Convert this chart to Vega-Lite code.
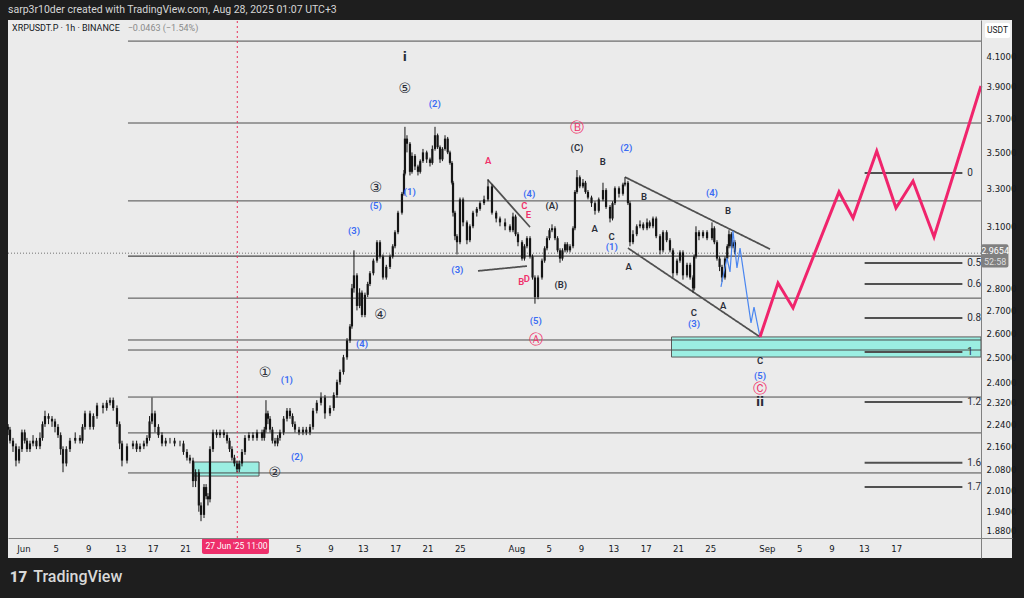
{
"$schema":"https://vega.github.io/schema/vega-lite/v6.json",
"width":1004,"height":538,
"autosize":{"type":"none"},
"padding":{"left":8,"top":20,"right":12,"bottom":40},
"background":"#1e1e1e",
"title":{"text":"sarp3r10der created with TradingView.com, Aug 28, 2025 01:07 UTC+3","anchor":"start","frame":"group","color":"#d6d6d6","fontSize":10.5,"fontWeight":"normal","font":"Roboto","offset":4},
"config":{"view":{"fill":"#ebebeb","stroke":null},"font":"Roboto"},
"resolve":{"scale":{"color":"independent","size":"independent","strokeWidth":"independent","strokeDash":"independent"}},
"datasets":{
"boxes":[{"d0":21.1,"d1":29.15,"p0":2.057,"p1":2.105},{"d0":80.2,"d1":118.5,"p0":2.501,"p1":2.585}],
"lines":[
{"d0":12.93,"p0":4.202,"d1":118.5,"p1":4.202,"k":"h"},
{"d0":12.93,"p0":3.673,"d1":118.5,"p1":3.673,"k":"h"},
{"d0":12.93,"p0":3.232,"d1":118.5,"p1":3.232,"k":"h"},
{"d0":12.93,"p0":2.952,"d1":118.5,"p1":2.952,"k":"thick"},
{"d0":12.93,"p0":2.755,"d1":118.5,"p1":2.755,"k":"h"},
{"d0":12.93,"p0":2.572,"d1":118.5,"p1":2.572,"k":"h"},
{"d0":12.93,"p0":2.530,"d1":118.5,"p1":2.530,"k":"h"},
{"d0":12.93,"p0":2.342,"d1":118.5,"p1":2.342,"k":"h"},
{"d0":12.93,"p0":2.208,"d1":118.5,"p1":2.208,"k":"h"},
{"d0":12.93,"p0":2.0675,"d1":118.5,"p1":2.0675,"k":"h"},
{"d0":-1.918,"p0":2.9654,"d1":118.5,"p1":2.9654,"k":"dot"},
{"d0":57.49,"p0":3.345,"d1":62.69,"p1":3.096,"k":"trend"},
{"d0":56.25,"p0":2.881,"d1":62.31,"p1":2.904,"k":"trend"},
{"d0":74.44,"p0":3.361,"d1":92.39,"p1":2.986,"k":"trend"},
{"d0":74.81,"p0":2.991,"d1":91.15,"p1":2.585,"k":"trend"},
{"d0":104.1,"p0":3.384,"d1":116.2,"p1":3.384,"k":"fib"},
{"d0":104.1,"p0":2.919,"d1":116.2,"p1":2.919,"k":"fib"},
{"d0":104.1,"p0":2.820,"d1":116.2,"p1":2.820,"k":"fib"},
{"d0":104.1,"p0":2.667,"d1":116.2,"p1":2.667,"k":"fib"},
{"d0":104.1,"p0":2.522,"d1":116.2,"p1":2.522,"k":"fib"},
{"d0":104.1,"p0":2.323,"d1":116.2,"p1":2.323,"k":"fib"},
{"d0":104.1,"p0":2.102,"d1":116.2,"p1":2.102,"k":"fib"},
{"d0":104.1,"p0":2.0205,"d1":116.2,"p1":2.0205,"k":"fib"}
],
"fibtext":[
{"d":116.8,"p":3.384,"t":"0"},{"d":116.8,"p":2.919,"t":"0.5"},{"d":116.8,"p":2.820,"t":"0.618"},{"d":116.8,"p":2.667,"t":"0.809"},
{"d":116.8,"p":2.522,"t":"1"},{"d":116.8,"p":2.323,"t":"1.272"},{"d":116.8,"p":2.102,"t":"1.618"},{"d":116.8,"p":2.0205,"t":"1.758"}
],
"vline":[{"d":26.46,"p0":1.858,"p1":4.35}],
"c":[
{"d":-1.9,"o":2.23,"h":2.24,"l":2.20,"c":2.22},{"d":-1.67,"o":2.22,"h":2.23,"l":2.17,"c":2.18},{"d":-1.3,"o":2.18,"h":2.19,"l":2.14,"c":2.16},{"d":-0.93,"o":2.16,"h":2.17,"l":2.09,"c":2.11},
{"d":-0.55,"o":2.11,"h":2.16,"l":2.10,"c":2.15},{"d":-0.19,"o":2.15,"h":2.22,"l":2.14,"c":2.21},{"d":0.15,"o":2.21,"h":2.22,"l":2.17,"c":2.18},{"d":0.43,"o":2.18,"h":2.19,"l":2.14,"c":2.15},
{"d":0.8,"o":2.15,"h":2.18,"l":2.14,"c":2.17},{"d":1.18,"o":2.17,"h":2.20,"l":2.16,"c":2.18},{"d":1.6,"o":2.18,"h":2.19,"l":2.15,"c":2.16},{"d":2.04,"o":2.16,"h":2.21,"l":2.15,"c":2.19},
{"d":2.35,"o":2.19,"h":2.25,"l":2.18,"c":2.24},{"d":2.66,"o":2.24,"h":2.29,"l":2.23,"c":2.27},{"d":3.1,"o":2.27,"h":2.28,"l":2.24,"c":2.26},{"d":3.53,"o":2.26,"h":2.27,"l":2.23,"c":2.25},
{"d":3.9,"o":2.25,"h":2.26,"l":2.21,"c":2.23},{"d":4.27,"o":2.23,"h":2.24,"l":2.19,"c":2.20},{"d":4.6,"o":2.20,"h":2.21,"l":2.13,"c":2.15},{"d":4.89,"o":2.15,"h":2.16,"l":2.07,"c":2.10},
{"d":5.3,"o":2.10,"h":2.16,"l":2.09,"c":2.15},{"d":5.75,"o":2.15,"h":2.19,"l":2.14,"c":2.18},{"d":6.4,"o":2.18,"h":2.21,"l":2.17,"c":2.19},{"d":6.99,"o":2.19,"h":2.20,"l":2.17,"c":2.18},
{"d":7.3,"o":2.18,"h":2.24,"l":2.17,"c":2.23},{"d":7.61,"o":2.23,"h":2.29,"l":2.22,"c":2.28},{"d":8.23,"o":2.28,"h":2.29,"l":2.22,"c":2.23},{"d":8.65,"o":2.23,"h":2.28,"l":2.22,"c":2.27},
{"d":9.1,"o":2.27,"h":2.32,"l":2.26,"c":2.31},{"d":9.84,"o":2.31,"h":2.32,"l":2.28,"c":2.30},{"d":10.3,"o":2.30,"h":2.33,"l":2.29,"c":2.32},{"d":10.71,"o":2.32,"h":2.34,"l":2.31,"c":2.33},
{"d":11.1,"o":2.33,"h":2.34,"l":2.29,"c":2.30},{"d":11.57,"o":2.30,"h":2.31,"l":2.23,"c":2.24},{"d":11.9,"o":2.24,"h":2.25,"l":2.15,"c":2.17},{"d":12.19,"o":2.17,"h":2.18,"l":2.09,"c":2.11},
{"d":12.81,"o":2.11,"h":2.17,"l":2.10,"c":2.16},{"d":13.55,"o":2.16,"h":2.18,"l":2.15,"c":2.17},{"d":14.0,"o":2.17,"h":2.18,"l":2.14,"c":2.15},{"d":14.42,"o":2.15,"h":2.17,"l":2.14,"c":2.16},
{"d":14.9,"o":2.16,"h":2.18,"l":2.15,"c":2.17},{"d":15.28,"o":2.17,"h":2.20,"l":2.16,"c":2.19},{"d":15.6,"o":2.19,"h":2.27,"l":2.18,"c":2.25},{"d":15.9,"o":2.25,"h":2.34,"l":2.24,"c":2.28},
{"d":16.27,"o":2.28,"h":2.29,"l":2.21,"c":2.23},{"d":16.7,"o":2.23,"h":2.24,"l":2.19,"c":2.20},{"d":17.14,"o":2.20,"h":2.21,"l":2.16,"c":2.17},{"d":17.6,"o":2.17,"h":2.19,"l":2.16,"c":2.18},
{"d":18.13,"o":2.18,"h":2.19,"l":2.17,"c":2.18},{"d":18.7,"o":2.18,"h":2.19,"l":2.16,"c":2.17},{"d":19.37,"o":2.17,"h":2.18,"l":2.16,"c":2.17},{"d":19.8,"o":2.17,"h":2.18,"l":2.13,"c":2.14},
{"d":20.23,"o":2.14,"h":2.15,"l":2.11,"c":2.12},{"d":20.6,"o":2.12,"h":2.13,"l":2.10,"c":2.11},{"d":20.98,"o":2.11,"h":2.12,"l":2.02,"c":2.04},{"d":21.3,"o":2.04,"h":2.08,"l":2.02,"c":2.07},
{"d":21.7,"o":2.07,"h":2.08,"l":1.94,"c":1.96},{"d":21.97,"o":1.96,"h":1.97,"l":1.91,"c":1.93},{"d":22.34,"o":1.93,"h":2.03,"l":1.92,"c":2.02},{"d":22.6,"o":2.02,"h":2.03,"l":1.98,"c":1.99},
{"d":22.83,"o":1.99,"h":2.00,"l":1.96,"c":1.98},{"d":23.08,"o":1.98,"h":2.16,"l":1.97,"c":2.15},{"d":23.45,"o":2.15,"h":2.22,"l":2.14,"c":2.21},{"d":23.9,"o":2.21,"h":2.22,"l":2.19,"c":2.20},
{"d":24.32,"o":2.20,"h":2.22,"l":2.19,"c":2.21},{"d":24.8,"o":2.21,"h":2.22,"l":2.19,"c":2.20},{"d":25.19,"o":2.20,"h":2.21,"l":2.17,"c":2.18},{"d":25.5,"o":2.18,"h":2.19,"l":2.14,"c":2.15},
{"d":25.8,"o":2.15,"h":2.16,"l":2.11,"c":2.12},{"d":26.1,"o":2.12,"h":2.13,"l":2.09,"c":2.10},{"d":26.42,"o":2.10,"h":2.11,"l":2.07,"c":2.08},{"d":26.7,"o":2.08,"h":2.11,"l":2.07,"c":2.10},
{"d":27.04,"o":2.10,"h":2.15,"l":2.09,"c":2.14},{"d":27.41,"o":2.14,"h":2.20,"l":2.13,"c":2.19},{"d":27.9,"o":2.19,"h":2.21,"l":2.18,"c":2.20},{"d":28.4,"o":2.20,"h":2.21,"l":2.18,"c":2.19},
{"d":28.9,"o":2.19,"h":2.22,"l":2.18,"c":2.21},{"d":29.52,"o":2.21,"h":2.22,"l":2.18,"c":2.19},{"d":29.8,"o":2.19,"h":2.23,"l":2.18,"c":2.22},{"d":30.01,"o":2.22,"h":2.33,"l":2.21,"c":2.28},
{"d":30.25,"o":2.28,"h":2.29,"l":2.24,"c":2.26},{"d":30.51,"o":2.26,"h":2.27,"l":2.21,"c":2.22},{"d":30.8,"o":2.22,"h":2.23,"l":2.17,"c":2.18},{"d":31.13,"o":2.18,"h":2.19,"l":2.16,"c":2.17},
{"d":31.45,"o":2.17,"h":2.20,"l":2.16,"c":2.19},{"d":31.74,"o":2.19,"h":2.22,"l":2.18,"c":2.21},{"d":32.2,"o":2.21,"h":2.27,"l":2.20,"c":2.26},{"d":32.61,"o":2.26,"h":2.30,"l":2.25,"c":2.29},
{"d":32.98,"o":2.29,"h":2.30,"l":2.26,"c":2.27},{"d":33.3,"o":2.27,"h":2.28,"l":2.23,"c":2.24},{"d":33.6,"o":2.24,"h":2.25,"l":2.21,"c":2.22},{"d":34.1,"o":2.22,"h":2.23,"l":2.20,"c":2.21},
{"d":34.59,"o":2.21,"h":2.23,"l":2.20,"c":2.22},{"d":35.0,"o":2.22,"h":2.23,"l":2.20,"c":2.21},{"d":35.46,"o":2.21,"h":2.24,"l":2.20,"c":2.23},{"d":35.83,"o":2.23,"h":2.30,"l":2.22,"c":2.29},
{"d":36.3,"o":2.29,"h":2.33,"l":2.28,"c":2.32},{"d":36.82,"o":2.32,"h":2.36,"l":2.31,"c":2.34},{"d":37.31,"o":2.34,"h":2.35,"l":2.26,"c":2.28},{"d":37.93,"o":2.28,"h":2.31,"l":2.27,"c":2.30},
{"d":38.4,"o":2.30,"h":2.36,"l":2.29,"c":2.35},{"d":38.8,"o":2.35,"h":2.41,"l":2.34,"c":2.40},{"d":39.17,"o":2.40,"h":2.45,"l":2.39,"c":2.44},{"d":39.6,"o":2.44,"h":2.51,"l":2.43,"c":2.50},
{"d":40.04,"o":2.50,"h":2.58,"l":2.49,"c":2.57},{"d":40.41,"o":2.57,"h":2.64,"l":2.56,"c":2.63},{"d":40.65,"o":2.63,"h":2.82,"l":2.62,"c":2.80},{"d":40.9,"o":2.80,"h":2.98,"l":2.78,"c":2.86},
{"d":41.27,"o":2.86,"h":2.87,"l":2.70,"c":2.72},{"d":41.6,"o":2.72,"h":2.80,"l":2.71,"c":2.78},{"d":41.89,"o":2.78,"h":2.79,"l":2.67,"c":2.68},{"d":42.26,"o":2.68,"h":2.78,"l":2.67,"c":2.77},
{"d":42.6,"o":2.77,"h":2.83,"l":2.76,"c":2.82},{"d":42.88,"o":2.82,"h":2.88,"l":2.81,"c":2.87},{"d":43.3,"o":2.87,"h":2.94,"l":2.86,"c":2.93},{"d":43.75,"o":2.93,"h":3.03,"l":2.92,"c":3.02},
{"d":44.12,"o":3.02,"h":3.03,"l":2.94,"c":2.95},{"d":44.49,"o":2.95,"h":2.96,"l":2.84,"c":2.85},{"d":44.9,"o":2.85,"h":2.91,"l":2.84,"c":2.90},{"d":45.36,"o":2.90,"h":2.96,"l":2.89,"c":2.95},
{"d":45.7,"o":2.95,"h":3.01,"l":2.94,"c":3.00},{"d":45.98,"o":3.00,"h":3.08,"l":2.99,"c":3.07},{"d":46.35,"o":3.07,"h":3.18,"l":3.06,"c":3.17},{"d":46.84,"o":3.17,"h":3.28,"l":3.16,"c":3.27},
{"d":47.09,"o":3.27,"h":3.40,"l":3.26,"c":3.38},{"d":47.21,"o":3.38,"h":3.65,"l":3.37,"c":3.58},{"d":47.46,"o":3.58,"h":3.60,"l":3.50,"c":3.55},{"d":47.83,"o":3.55,"h":3.56,"l":3.37,"c":3.39},
{"d":48.08,"o":3.39,"h":3.50,"l":3.38,"c":3.48},{"d":48.45,"o":3.48,"h":3.49,"l":3.40,"c":3.42},{"d":48.82,"o":3.42,"h":3.43,"l":3.37,"c":3.39},{"d":49.1,"o":3.39,"h":3.46,"l":3.38,"c":3.45},
{"d":49.44,"o":3.45,"h":3.52,"l":3.44,"c":3.50},{"d":49.9,"o":3.50,"h":3.51,"l":3.44,"c":3.46},{"d":50.31,"o":3.46,"h":3.47,"l":3.42,"c":3.44},{"d":50.6,"o":3.44,"h":3.54,"l":3.43,"c":3.52},
{"d":50.93,"o":3.52,"h":3.65,"l":3.51,"c":3.60},{"d":51.25,"o":3.60,"h":3.61,"l":3.52,"c":3.53},{"d":51.55,"o":3.53,"h":3.54,"l":3.44,"c":3.46},{"d":51.85,"o":3.46,"h":3.53,"l":3.45,"c":3.52},
{"d":52.17,"o":3.52,"h":3.60,"l":3.51,"c":3.58},{"d":52.5,"o":3.58,"h":3.59,"l":3.49,"c":3.50},{"d":52.78,"o":3.50,"h":3.51,"l":3.43,"c":3.44},{"d":53.03,"o":3.44,"h":3.45,"l":3.32,"c":3.33},
{"d":53.16,"o":3.33,"h":3.34,"l":3.15,"c":3.17},{"d":53.4,"o":3.17,"h":3.18,"l":3.03,"c":3.05},{"d":53.65,"o":3.05,"h":3.06,"l":2.96,"c":3.02},{"d":54.02,"o":3.02,"h":3.25,"l":3.01,"c":3.24},
{"d":54.4,"o":3.24,"h":3.25,"l":3.10,"c":3.12},{"d":54.88,"o":3.12,"h":3.13,"l":3.01,"c":3.03},{"d":55.25,"o":3.03,"h":3.11,"l":3.02,"c":3.10},{"d":55.63,"o":3.10,"h":3.18,"l":3.09,"c":3.17},
{"d":56.1,"o":3.17,"h":3.20,"l":3.15,"c":3.19},{"d":56.5,"o":3.19,"h":3.23,"l":3.18,"c":3.22},{"d":57.0,"o":3.22,"h":3.26,"l":3.21,"c":3.24},{"d":57.49,"o":3.24,"h":3.35,"l":3.23,"c":3.31},
{"d":57.98,"o":3.31,"h":3.32,"l":3.16,"c":3.17},{"d":58.5,"o":3.17,"h":3.18,"l":3.12,"c":3.14},{"d":58.97,"o":3.14,"h":3.15,"l":3.10,"c":3.12},{"d":59.6,"o":3.12,"h":3.14,"l":3.08,"c":3.10},
{"d":60.21,"o":3.10,"h":3.11,"l":3.07,"c":3.08},{"d":60.58,"o":3.08,"h":3.17,"l":3.07,"c":3.15},{"d":60.9,"o":3.15,"h":3.16,"l":3.05,"c":3.06},{"d":61.2,"o":3.06,"h":3.07,"l":3.00,"c":3.02},
{"d":61.7,"o":3.02,"h":3.03,"l":2.93,"c":2.94},{"d":62.0,"o":2.94,"h":3.01,"l":2.93,"c":3.00},{"d":62.31,"o":3.00,"h":3.05,"l":2.99,"c":3.04},{"d":62.69,"o":3.04,"h":3.05,"l":2.94,"c":2.95},
{"d":63.0,"o":2.95,"h":2.96,"l":2.84,"c":2.85},{"d":63.3,"o":2.85,"h":2.86,"l":2.73,"c":2.76},{"d":63.68,"o":2.76,"h":2.86,"l":2.75,"c":2.85},{"d":64.17,"o":2.85,"h":2.94,"l":2.84,"c":2.93},
{"d":64.5,"o":2.93,"h":3.00,"l":2.92,"c":2.99},{"d":64.79,"o":2.99,"h":3.05,"l":2.98,"c":3.04},{"d":65.1,"o":3.04,"h":3.09,"l":3.03,"c":3.08},{"d":65.41,"o":3.08,"h":3.11,"l":3.07,"c":3.09},
{"d":65.78,"o":3.09,"h":3.10,"l":3.03,"c":3.04},{"d":66.1,"o":3.04,"h":3.05,"l":2.97,"c":2.98},{"d":66.4,"o":2.98,"h":2.99,"l":2.92,"c":2.94},{"d":66.7,"o":2.94,"h":2.99,"l":2.93,"c":2.98},
{"d":67.02,"o":2.98,"h":3.02,"l":2.97,"c":3.01},{"d":67.3,"o":3.01,"h":3.02,"l":2.97,"c":2.98},{"d":67.64,"o":2.98,"h":3.01,"l":2.97,"c":3.00},{"d":68.01,"o":3.00,"h":3.10,"l":2.99,"c":3.09},
{"d":68.25,"o":3.09,"h":3.29,"l":3.08,"c":3.28},{"d":68.5,"o":3.28,"h":3.40,"l":3.27,"c":3.36},{"d":68.85,"o":3.36,"h":3.37,"l":3.30,"c":3.31},{"d":69.24,"o":3.31,"h":3.35,"l":3.30,"c":3.33},
{"d":69.55,"o":3.33,"h":3.34,"l":3.27,"c":3.28},{"d":69.86,"o":3.28,"h":3.29,"l":3.24,"c":3.25},{"d":70.3,"o":3.25,"h":3.26,"l":3.20,"c":3.22},{"d":70.73,"o":3.22,"h":3.23,"l":3.16,"c":3.18},
{"d":71.2,"o":3.18,"h":3.25,"l":3.17,"c":3.24},{"d":71.72,"o":3.24,"h":3.33,"l":3.23,"c":3.29},{"d":72.1,"o":3.29,"h":3.30,"l":3.19,"c":3.20},{"d":72.59,"o":3.20,"h":3.21,"l":3.12,"c":3.14},
{"d":72.9,"o":3.14,"h":3.23,"l":3.13,"c":3.22},{"d":73.2,"o":3.22,"h":3.31,"l":3.21,"c":3.30},{"d":73.7,"o":3.30,"h":3.31,"l":3.25,"c":3.27},{"d":74.19,"o":3.27,"h":3.33,"l":3.26,"c":3.32},
{"d":74.44,"o":3.32,"h":3.36,"l":3.31,"c":3.33},{"d":74.81,"o":3.33,"h":3.34,"l":3.21,"c":3.22},{"d":75.06,"o":3.22,"h":3.23,"l":3.00,"c":3.02},{"d":75.43,"o":3.02,"h":3.08,"l":3.01,"c":3.06},
{"d":75.9,"o":3.06,"h":3.11,"l":3.05,"c":3.10},{"d":76.3,"o":3.10,"h":3.13,"l":3.09,"c":3.11},{"d":76.7,"o":3.11,"h":3.12,"l":3.08,"c":3.09},{"d":77.17,"o":3.09,"h":3.14,"l":3.08,"c":3.12},
{"d":77.5,"o":3.12,"h":3.13,"l":3.09,"c":3.10},{"d":77.91,"o":3.10,"h":3.15,"l":3.09,"c":3.14},{"d":78.3,"o":3.14,"h":3.15,"l":3.04,"c":3.05},{"d":78.78,"o":3.05,"h":3.06,"l":2.96,"c":2.98},
{"d":79.15,"o":2.98,"h":3.08,"l":2.97,"c":3.07},{"d":79.6,"o":3.07,"h":3.08,"l":3.02,"c":3.03},{"d":80.01,"o":3.03,"h":3.04,"l":2.97,"c":2.98},{"d":80.38,"o":2.98,"h":2.99,"l":2.85,"c":2.87},
{"d":80.88,"o":2.87,"h":2.94,"l":2.86,"c":2.93},{"d":81.25,"o":2.93,"h":2.98,"l":2.92,"c":2.97},{"d":81.62,"o":2.97,"h":2.98,"l":2.84,"c":2.86},{"d":82.12,"o":2.86,"h":2.92,"l":2.85,"c":2.91},
{"d":82.5,"o":2.91,"h":2.92,"l":2.84,"c":2.85},{"d":82.86,"o":2.85,"h":2.86,"l":2.78,"c":2.80},{"d":83.0,"o":2.80,"h":2.96,"l":2.79,"c":2.95},{"d":83.23,"o":2.95,"h":3.10,"l":2.94,"c":3.07},
{"d":83.6,"o":3.07,"h":3.08,"l":3.03,"c":3.05},{"d":84.1,"o":3.05,"h":3.08,"l":3.04,"c":3.07},{"d":84.6,"o":3.07,"h":3.08,"l":3.03,"c":3.04},{"d":85.21,"o":3.04,"h":3.12,"l":3.03,"c":3.09},
{"d":85.5,"o":3.09,"h":3.10,"l":3.01,"c":3.02},{"d":85.83,"o":3.02,"h":3.03,"l":2.93,"c":2.94},{"d":86.15,"o":2.94,"h":2.95,"l":2.88,"c":2.90},{"d":86.45,"o":2.90,"h":2.91,"l":2.83,"c":2.85},
{"d":86.82,"o":2.85,"h":2.95,"l":2.84,"c":2.94},{"d":87.1,"o":2.94,"h":3.01,"l":2.93,"c":3.00},{"d":87.31,"o":3.00,"h":3.08,"l":2.99,"c":3.06},{"d":87.6,"o":3.06,"h":3.07,"l":2.99,"c":3.00},
{"d":87.81,"o":3.00,"h":3.03,"l":2.99,"c":3.02},{"d":88.05,"o":3.02,"h":3.03,"l":2.96,"c":2.97}
],
"blue":[{"d":86.32,"p":2.806},{"d":87.06,"p":2.943},{"d":87.44,"p":2.876},{"d":87.81,"p":3.076},{"d":88.3,"p":2.895},{"d":88.68,"p":2.991},{"d":90.04,"p":2.645},{"d":90.41,"p":2.715},{"d":91.15,"p":2.585}],
"pink":[{"d":91.15,"p":2.585},{"d":93.38,"p":2.824},{"d":95.24,"p":2.711},{"d":100.93,"p":3.28},{"d":102.67,"p":3.142},{"d":105.6,"p":3.508},{"d":107.98,"p":3.194},{"d":110.09,"p":3.339},{"d":112.69,"p":3.046},{"d":118.5,"p":3.903}],
"ann":[
{"d":47.2,"p":4.093,"t":"i","k":"roman"},{"d":91.15,"p":2.323,"t":"ii","k":"roman"},
{"d":47.2,"p":3.884,"t":"⑤","k":"circ"},{"d":43.6,"p":3.301,"t":"③","k":"circ"},{"d":44.2,"p":2.68,"t":"④","k":"circ"},{"d":29.9,"p":2.436,"t":"①","k":"circ"},{"d":31.1,"p":2.0675,"t":"②","k":"circ"},
{"d":68.5,"p":3.643,"t":"Ⓑ","k":"circp"},{"d":63.4,"p":2.572,"t":"Ⓐ","k":"circp"},{"d":91.15,"p":2.373,"t":"Ⓒ","k":"circp"},
{"d":68.5,"p":3.525,"t":"(C)","k":"dark"},{"d":71.7,"p":3.445,"t":"B","k":"dark"},{"d":65.4,"p":3.205,"t":"(A)","k":"dark"},{"d":70.7,"p":3.086,"t":"A","k":"dark"},
{"d":72.8,"p":3.046,"t":"C","k":"dark"},{"d":66.5,"p":2.815,"t":"(B)","k":"dark"},{"d":76.8,"p":3.253,"t":"B","k":"dark"},{"d":74.9,"p":2.899,"t":"A","k":"dark"},
{"d":82.98,"p":2.689,"t":"C","k":"dark"},{"d":86.6,"p":2.72,"t":"A","k":"dark"},{"d":87.2,"p":3.179,"t":"B","k":"dark"},{"d":91.15,"p":2.485,"t":"C","k":"dark"},
{"d":50.9,"p":3.79,"t":"(2)","k":"blue"},{"d":47.8,"p":3.28,"t":"(1)","k":"blue"},{"d":43.6,"p":3.205,"t":"(5)","k":"blue"},{"d":40.9,"p":3.076,"t":"(3)","k":"blue"},
{"d":41.9,"p":2.555,"t":"(4)","k":"blue"},{"d":32.6,"p":2.408,"t":"(1)","k":"blue"},{"d":33.85,"p":2.122,"t":"(2)","k":"blue"},{"d":53.7,"p":2.885,"t":"(3)","k":"blue"},
{"d":62.6,"p":3.27,"t":"(4)","k":"blue"},{"d":63.4,"p":2.654,"t":"(5)","k":"blue"},{"d":74.6,"p":3.525,"t":"(2)","k":"blue"},{"d":72.8,"p":2.996,"t":"(1)","k":"blue"},
{"d":85.2,"p":3.274,"t":"(4)","k":"blue"},{"d":82.98,"p":2.64,"t":"(3)","k":"blue"},{"d":91.15,"p":2.424,"t":"(5)","k":"blue"},
{"d":57.5,"p":3.451,"t":"A","k":"pink"},{"d":62.0,"p":3.205,"t":"C","k":"pink"},{"d":62.5,"p":3.16,"t":"E","k":"pink"},{"d":61.6,"p":2.829,"t":"B","k":"pink"},{"d":62.3,"p":2.845,"t":"D","k":"pink"}
],
"uirect":[{"d0":118.5,"d1":121.9,"p0":2.897,"p1":3.01,"k":"tag"},{"d0":119.0,"d1":122.1,"p0":4.223,"p1":4.329,"k":"usdt"},{"d0":22.09,"d1":30.38,"p0":1.81,"p1":1.858,"k":"date"}],
"tagtext":[{"d":120.25,"p":2.978,"t":"2.9654","k":"a"},{"d":120.25,"p":2.922,"t":"52:58","k":"b"}],
"ctext":[{"d":120.55,"p":4.279,"t":"USDT","k":"usdt"},{"d":26.36,"p":1.834,"t":"27 Jun '25   11:00","k":"date"}],
"symtext":[{"d":-1.42,"p":4.293,"t":"XRPUSDT.P · 1h · BINANCE","k":"sym"},{"d":12.9,"p":4.293,"t":"−0.0463 (−1.54%)","k":"chg"}],
"foot":[{"d":1.2,"p":1.743,"t":"TradingView"}],
"logo":[{"d":-1.7,"p":1.743,"t":"17"}]
},
"layer":[
{"data":{"name":"boxes"},"mark":{"type":"rect","fill":"#9beee2","stroke":"#5a5a5a","strokeWidth":1},
 "encoding":{
  "x":{"field":"d0","type":"quantitative","title":null,"scale":{"domain":[-1.918,122.34],"nice":false,"zero":false,"padding":0},
   "axis":{"title":null,"orient":"bottom","offset":-20,"zindex":1,"values":[0,4,8,12,16,20,34,38,42,46,50,54,61,65,69,73,77,81,85,92,96,100,104,108],
   "labelExpr":"datum.value==0?'Jun':datum.value==61?'Aug':datum.value==92?'Sep':datum.value<30?''+(datum.value+1):datum.value<61?''+(datum.value-29):datum.value<92?''+(datum.value-60):''+(datum.value-91)",
   "ticks":false,"grid":false,"domain":true,"domainColor":"#808080","labelColor":"#131722","labelFontSize":9.5,"labelFont":"Liberation Sans Narrow, DejaVu Sans Condensed, Roboto","labelPadding":5,"labelOverlap":false,"labelFlush":false}},
  "x2":{"field":"d1"},
  "y":{"field":"p0","type":"quantitative","title":null,"scale":{"type":"log","domain":[1.798,4.35],"nice":false,"zero":false,"padding":0},
   "axis":{"title":null,"orient":"right","offset":-31,"zindex":1,"values":[1.88,1.94,2.01,2.08,2.16,2.24,2.32,2.4,2.5,2.6,2.7,2.8,3.1,3.3,3.5,3.7,3.9,4.1],"format":".4f",
   "ticks":false,"grid":false,"domain":true,"domainColor":"#808080","labelColor":"#131722","labelFontSize":9.5,"labelFont":"Liberation Sans Narrow, DejaVu Sans Condensed, Roboto","labelPadding":5,"labelOverlap":false,"labelFlush":false}},
  "y2":{"field":"p1"}}},
{"data":{"name":"lines"},"mark":{"type":"rule"},
 "encoding":{
  "x":{"field":"d0","type":"quantitative","title":null},"x2":{"field":"d1"},
  "y":{"field":"p0","type":"quantitative","title":null},"y2":{"field":"p1"},
  "color":{"field":"k","type":"nominal","scale":{"domain":["h","thick","dot","trend","fib"],"range":["#4a4a4a","#4a4a4a","#9a9a9a","#505050","#505050"]},"legend":null},
  "strokeWidth":{"field":"k","type":"nominal","scale":{"domain":["h","thick","dot","trend","fib"],"range":[1,2,1,1,1]},"legend":null},
  "strokeDash":{"field":"k","type":"nominal","scale":{"domain":["h","thick","dot","trend","fib"],"range":[[1,0],[1,0],[1,2],[1,0],[1,0]]},"legend":null}}},
{"data":{"name":"vline"},"mark":{"type":"rule","color":"#e8305a","strokeDash":[2,3],"strokeWidth":1},
 "encoding":{"x":{"field":"d","type":"quantitative","title":null},"y":{"field":"p0","type":"quantitative","title":null},"y2":{"field":"p1"}}},
{"data":{"name":"c"},"mark":{"type":"rule","color":"#151515","strokeWidth":1},
 "encoding":{"x":{"field":"d","type":"quantitative","title":null},"y":{"field":"l","type":"quantitative","title":null},"y2":{"field":"h"}}},
{"data":{"name":"c"},"mark":{"type":"bar","color":"#151515","size":2.2},
 "encoding":{"x":{"field":"d","type":"quantitative","title":null},"y":{"field":"o","type":"quantitative","title":null},"y2":{"field":"c"}}},
{"data":{"name":"blue"},"mark":{"type":"line","color":"#4a86f0","strokeWidth":1.2},
 "encoding":{"x":{"field":"d","type":"quantitative","title":null},"y":{"field":"p","type":"quantitative","title":null}}},
{"data":{"name":"pink"},"mark":{"type":"line","color":"#f0246c","strokeWidth":3},
 "encoding":{"x":{"field":"d","type":"quantitative","title":null},"y":{"field":"p","type":"quantitative","title":null}}},
{"data":{"name":"ann"},"transform":[{"filter":"datum.k=='dark'||datum.k=='blue'||datum.k=='pink'"}],
 "mark":{"type":"text","fontSize":9.5,"fontWeight":600,"font":"Roboto"},
 "encoding":{"x":{"field":"d","type":"quantitative","title":null},"y":{"field":"p","type":"quantitative","title":null},"text":{"field":"t"},
  "color":{"field":"k","type":"nominal","scale":{"domain":["dark","blue","pink"],"range":["#2a2e39","#3a6cf4","#f0306a"]},"legend":null}}},
{"data":{"name":"ann"},"transform":[{"filter":"datum.k=='circ'||datum.k=='circp'"}],
 "mark":{"type":"text","fontSize":14,"font":"DejaVu Sans"},
 "encoding":{"x":{"field":"d","type":"quantitative","title":null},"y":{"field":"p","type":"quantitative","title":null},"text":{"field":"t"},
  "color":{"field":"k","type":"nominal","scale":{"domain":["circ","circp"],"range":["#2a2e39","#f0306a"]},"legend":null}}},
{"data":{"name":"ann"},"transform":[{"filter":"datum.k=='roman'"}],
 "mark":{"type":"text","fontSize":12,"fontWeight":"bold","font":"DejaVu Sans","color":"#2a2e39"},
 "encoding":{"x":{"field":"d","type":"quantitative","title":null},"y":{"field":"p","type":"quantitative","title":null},"text":{"field":"t"}}},
{"data":{"name":"fibtext"},"mark":{"type":"text","align":"left","fontSize":10,"font":"Roboto","color":"#2a2e39","limit":14,"ellipsis":"\u200b"},
 "encoding":{"x":{"field":"d","type":"quantitative","title":null},"y":{"field":"p","type":"quantitative","title":null},"text":{"field":"t"}}},
{"data":{"name":"uirect"},"mark":{"type":"rect","cornerRadius":2},
 "encoding":{"x":{"field":"d0","type":"quantitative","title":null},"x2":{"field":"d1"},"y":{"field":"p0","type":"quantitative","title":null},"y2":{"field":"p1"},
  "color":{"field":"k","type":"nominal","scale":{"domain":["tag","usdt","date"],"range":["#808080","#ffffff","#ee2f6b"]},"legend":null}}},
{"data":{"name":"tagtext"},"mark":{"type":"text","font":"Liberation Sans Narrow, Roboto","fontSize":9},
 "encoding":{"x":{"field":"d","type":"quantitative","title":null},"y":{"field":"p","type":"quantitative","title":null},"text":{"field":"t"},
  "color":{"field":"k","type":"nominal","scale":{"domain":["a","b"],"range":["#ffffff","#dddddd"]},"legend":null}}},
{"data":{"name":"ctext"},"mark":{"type":"text","font":"Liberation Sans Narrow, Roboto","fontSize":8.5},
 "encoding":{"x":{"field":"d","type":"quantitative","title":null},"y":{"field":"p","type":"quantitative","title":null},"text":{"field":"t"},
  "color":{"field":"k","type":"nominal","scale":{"domain":["usdt","date"],"range":["#131722","#ffffff"]},"legend":null}}},
{"data":{"name":"symtext"},"mark":{"type":"text","align":"left","font":"Liberation Sans Narrow, Roboto","fontSize":9},
 "encoding":{"x":{"field":"d","type":"quantitative","title":null},"y":{"field":"p","type":"quantitative","title":null},"text":{"field":"t"},
  "color":{"field":"k","type":"nominal","scale":{"domain":["sym","chg"],"range":["#131722","#8a8a8a"]},"legend":null}}},
{"data":{"name":"foot"},"mark":{"type":"text","align":"left","font":"Roboto","fontSize":16,"fontWeight":500,"color":"#d8d8d8"},
 "encoding":{"x":{"field":"d","type":"quantitative","title":null},"y":{"field":"p","type":"quantitative","title":null},"text":{"field":"t"}}},
{"data":{"name":"logo"},"mark":{"type":"text","align":"left","font":"Roboto","fontSize":15,"fontWeight":900,"color":"#d8d8d8"},
 "encoding":{"x":{"field":"d","type":"quantitative","title":null},"y":{"field":"p","type":"quantitative","title":null},"text":{"field":"t"}}}
]
}
